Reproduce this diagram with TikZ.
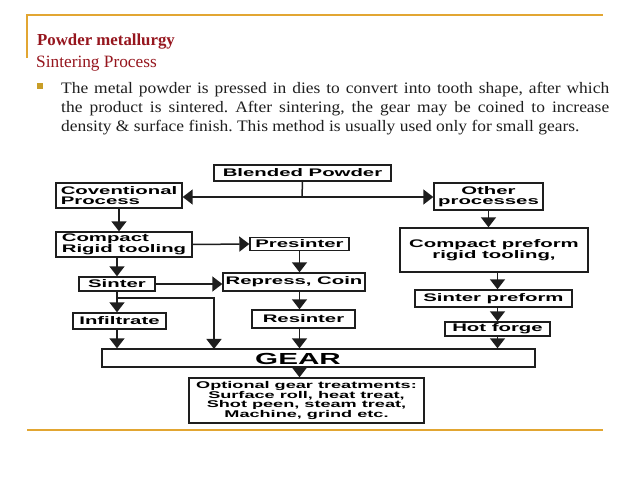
\documentclass[tikz,border=0pt]{standalone}
\usepackage{fontspec}
\setmainfont{Liberation Serif}
\newfontfamily\bodyfont[FakeStretch=1.09]{Liberation Serif}
\newfontfamily\diafont[FakeStretch=1.85]{Liberation Sans}
\usetikzlibrary{arrows.meta}

\definecolor{slidered}{RGB}{150,22,30}
\definecolor{slidegold}{RGB}{226,166,50}
\definecolor{bulletgold}{RGB}{200,158,40}
\definecolor{boxline}{RGB}{30,30,30}

\tikzset{
    pbox/.style={draw=boxline, line width=1.4pt, inner sep=0pt, fill=white,
        font=\diafont\bfseries\fontsize{11}{10.2}\selectfont},
    flow/.style={draw=boxline, line width=1.5pt, -{Triangle[width=15pt,length=10pt]}},
    link/.style={draw=boxline, line width=1.5pt},
}

\begin{document}
\begin{tikzpicture}[x=1pt,y=-1pt]
    \useasboundingbox[fill=white] (0,0) rectangle (638,478);

    \draw[slidegold, line width=1.2pt] (27,58) -- (27,15) -- (603,15);
    \draw[slidegold, line width=1.2pt] (27,430) -- (603,430);
    \node[anchor=base west, inner sep=0pt, text=slidered, font=\bfseries\fontsize{16.8}{20}\selectfont] (title) at (37,46) {Powder metallurgy};
    \node[anchor=base west, inner sep=0pt, text=slidered, font=\fontsize{17.3}{20}\selectfont] (subtitle) at (36,68) {Sintering Process};
    \fill[bulletgold] (37,83) rectangle (43,89);
    \node[anchor=north west, inner sep=0pt, text width=548pt, align=justify, text=black!88, font=\bodyfont\frenchspacing\fontsize{16}{19}\selectfont] (body) at (61,82.5)
        {The metal powder is pressed in dies to convert into tooth shape, after which\linebreak
         the product is sintered. After sintering, the gear may be coined to increase\linebreak
         density \& surface finish. This method is usually used only for small gears.};

    \node[pbox, minimum width=177, minimum height=16] (blend) at (302.5,173) {Blended Powder};
    \node[pbox, minimum width=126, minimum height=25, align=left] (conv) at (119,195.5) {Coventional\\Process};
    \node[pbox, minimum width=109, minimum height=27, align=center] (other) at (488.5,196.5) {Other\\processes};
    \node[pbox, minimum width=136, minimum height=25, align=left] (compact) at (124,244.5) {Compact\\Rigid tooling};
    \node[pbox, minimum width=99, minimum height=13] (presint) at (299.5,244) {Presinter};
    \node[pbox, minimum width=188, minimum height=44, align=center] (cpre) at (494,250) {Compact preform\\rigid tooling,};
    \node[pbox, minimum width=76, minimum height=14] (sinter) at (117,284) {Sinter};
    \node[pbox, minimum width=142, minimum height=18] (repress) at (294,282) {Repress, Coin};
    \node[pbox, minimum width=157, minimum height=17] (spre) at (493.5,298.5) {Sinter preform};
    \node[pbox, minimum width=93, minimum height=16] (infil) at (119.5,321) {Infiltrate};
    \node[pbox, minimum width=103, minimum height=18] (resint) at (303.5,319) {Resinter};
    \node[pbox, minimum width=105, minimum height=14] (hotf) at (497.5,329) {Hot forge};
    \node[pbox, minimum width=433, minimum height=18] (gear) at (318.5,358) {};
    \node[inner sep=0pt, font=\diafont\bfseries\fontsize{16}{16}\selectfont] (geartext) at (298,358.5) {GEAR};
    \node[pbox, minimum width=235, minimum height=45, align=center,
        font=\diafont\bfseries\fontsize{9.8}{9.7}\selectfont] (opt) at (306.5,400.5)
        {Optional gear treatments:\\Surface roll, heat treat,\\Shot peen, steam treat,\\Machine, grind etc.};

    \coordinate (bj) at (302,197);
    \coordinate (sb) at (117,298);
    \coordinate (gin) at (214,349);

    \draw[link] (blend.south) -- (bj);
    \draw[flow] (bj) -- (bj -| conv.east);
    \draw[flow] (bj) -- (bj -| other.west);
    \draw[flow] (conv.south) -- (conv.south |- compact.north);
    \draw[flow] (compact.east) -- (presint.west);
    \draw[flow] (sinter |- compact.south) -- (sinter.north);
    \draw[flow] (presint.south) -- (presint.south |- repress.north);
    \draw[flow] (sinter.east) -- (sinter.east -| repress.west);
    \draw[flow] (sinter.south) -- (infil.north -| sinter);
    \draw[flow] (sb) -| (gin);
    \draw[flow] (infil.south -| sinter) -- (gear.north -| sinter);
    \foreach \a/\b in {repress/resint, resint/gear, gear/opt}
        \draw[flow] (presint |- \a.south) -- (presint |- \b.north);
    \draw[flow] (other.south) -- (other.south |- cpre.north);
    \foreach \a/\b in {cpre/spre, spre/hotf, hotf/gear}
        \draw[flow] (hotf |- \a.south) -- (hotf |- \b.north);
\end{tikzpicture}
\end{document}
